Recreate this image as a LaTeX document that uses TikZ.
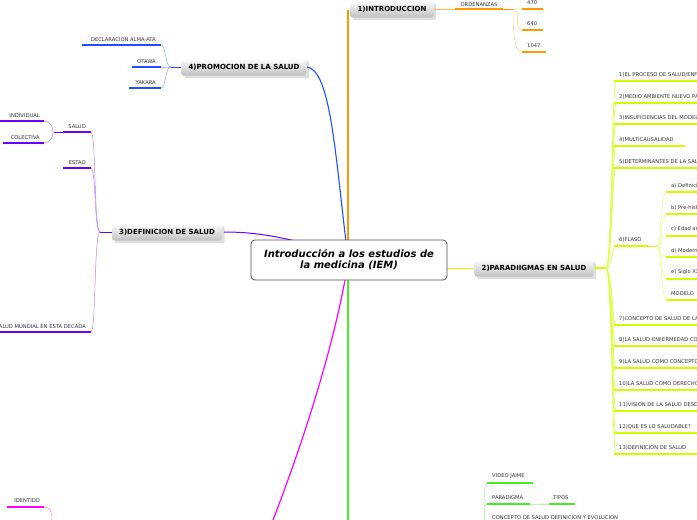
\documentclass[tikz,border=0pt]{standalone}
\usepackage{fontspec}
\setmainfont{DejaVu Sans}
\usetikzlibrary{shadows}
\definecolor{cor}{HTML}{FF9900}
\definecolor{clime}{HTML}{CCFF00}
\definecolor{cblue}{HTML}{1F4FFF}
\definecolor{cpur}{HTML}{6A00FF}
\definecolor{cgrn}{HTML}{44EE22}
\definecolor{cmag}{HTML}{FF00FF}
\tikzset{
 mainbox/.style={draw=black!70,rounded corners=4pt,fill=white,line width=0.8pt,minimum width=196pt,minimum height=40pt,align=center,font=\bfseries\itshape\fontsize{10}{11}\selectfont},
 topic/.style={rounded corners=2pt,top color=white,bottom color=black!25,drop shadow={opacity=0.25},minimum height=17pt,inner xsep=7pt,font=\bfseries\fontsize{7}{8}\selectfont},
 lbl/.style={font=\fontsize{5.2}{5.5}\selectfont,text=black!80,inner sep=0pt,anchor=south west},
 ul/.style={line width=2pt},
}
\begin{document}
\begin{tikzpicture}[x=1pt,y=-1pt]
\useasboundingbox (0,0) rectangle (697,520);
\clip (0,0) rectangle (697,520);
% connectors from center
\draw[cor,line width=1.3pt] (348,242) -- (348,10);
\draw[cgrn,line width=1.3pt] (348,278) -- (348,520);
\draw[cmag,line width=1.2pt] (345,280) .. controls (330,360) and (300,450) .. (273,520);
\draw[cblue,line width=1.1pt] (346,242) .. controls (335,150) and (330,70) .. (307,67);
\draw[cpur,line width=1pt] (300,242) .. controls (270,235) and (250,232) .. (224,232);
\draw[clime,line width=1pt] (447,268) -- (473,268);
% center
\node[mainbox] (c) at (349,260) {Introducción a los estudios de\\la medicina (IEM)};
% 1) INTRODUCCION
\node[topic] (t1) at (392,9) {1)INTRODUCCION};
\draw[cor!70,line width=0.5pt] (t1.east) -- (455,9);
\draw[cor,ul] (455,9) coordinate (o1) -- (503,9) coordinate (o2);
\node[lbl,anchor=south] (ord) at (479,7) {ORDENANZAS};
\draw[cor,line width=0.8pt] (o2) -- (513,9);
\draw[cor!50,line width=0.5pt] (513,9) -- (522,9) (513,9) to[out=0,in=180] (522,30) (513,9) .. controls (513,40) and (516,52) .. (522,52);
\draw[cor,ul] (522,9) -- (543,9); \node[lbl] at (527,5) {470};
\draw[cor,ul] (522,30) -- (543,30); \node[lbl] at (527,26) {640};
\draw[cor,ul] (522,52) -- (546,52); \node[lbl] at (527,48) {1047};
% 2) PARADIIGMAS
\node[topic] (t2) at (534,268) {2)PARADIIGMAS EN SALUD};
\draw[clime,line width=1.5pt] (t2.east) -- (606,268);
\foreach \y/\t/\e in {81/{1)EL PROCESO DE SALUD/ENFERMEDAD}/700,103/{2)MEDIO AMBIENTE NUEVO PARADIGMA}/700,124/{3)INSUFICIENCIAS DEL MODELO}/700,146/{4)MULTICAUSALIDAD}/685,168/{5)DETERMINANTES DE LA SALUD}/700,325/{7)CONCEPTO DE SALUD DE LA OMS}/700,346/{8)LA SALUD-ENFERMEDAD COMO PROCESO}/700,368/{9)LA SALUD COMO CONCEPTO}/700,390/{10)LA SALUD COMO DERECHO}/700,411/{11)VISION DE LA SALUD DESDE}/700,433/{12)QUE ES LO SALUDABLE?}/700,454/{13)DEFINICION DE SALUD}/700}{
 \draw[clime!70,line width=0.8pt] (606,268) .. controls (612,268) and (612,\y) .. (616,\y);
 \draw[clime,ul] (614,\y) -- (\e,\y);
 \node[lbl] at (619,\y-4) {\t};
}
\draw[clime!70,line width=0.8pt] (606,268) .. controls (612,268) and (612,246) .. (616,246);
\draw[clime,ul] (614,246) -- (648,246) coordinate (f);
\node[lbl] at (619,242) {6)FLASO};
\draw[clime,line width=0.8pt] (f) -- (657,246);
\foreach \y/\t in {192/{a) Definición},214/{b) Pre-historia},236/{c) Edad antigua},257/{d) Moderna},279/{e) Siglo XX},300/{MODELO}}{
 \draw[clime!50,line width=0.5pt] (657,246) .. controls (662,246) and (660,\y) .. (667,\y);
 \draw[clime,ul] (666,\y) -- (700,\y);
 \node[lbl] at (671,\y-4) {\t};
}
% 4) PROMOCION
\node[topic] (t4) at (244,67) {4)PROMOCION DE LA SALUD};
\draw[cblue,line width=0.8pt] (t4.west) -- (171,67);
\foreach \y/\x/\t in {45/82/{DECLARACION ALMA-ATA},67/132/{OTAWA},88/129/{YAKARA}}{
 \draw[cblue!50,line width=0.5pt] (171,67) .. controls (165,67) and (166,\y) .. (161,\y);
 \draw[cblue,ul] (\x,\y) -- (161,\y);
 \node[lbl,anchor=south east] at (156,\y-3) {\t};
}
% 3) DEFINICION
\node[topic] (t3) at (167,232) {3)DEFINICION DE SALUD};
\draw[cpur,line width=0.8pt] (t3.west) -- (100,232);
\foreach \y/\x/\t in {132/63/{SALUD},168/63/{ESTAO},332/-10/{SALUD MUNDIAL EN ESTA DECADA}}{
 \draw[cpur!50,line width=0.5pt] (100,232) .. controls (94,232) and (96,\y) .. (91,\y);
 \draw[cpur,ul] (\x,\y) -- (91,\y);
 \node[lbl,anchor=south east] at (86,\y-3) {\t};
}
\draw[cpur,line width=0.8pt] (63,132) -- (54,132);
\draw[cpur!50,line width=0.5pt] (44,121) .. controls (56,121) and (56,143) .. (44,143);
\draw[cpur,ul] (0,121) -- (44,121); \node[lbl,anchor=south east] at (40,118) {INDIVIDUAL};
\draw[cpur,ul] (3,143) -- (44,143); \node[lbl,anchor=south east] at (40,140) {COLECTIVA};
% green
\foreach \y/\x/\t in {483/533/{VIDEO JAIME},504/530/{PARADIGMA},524/700/{CONCEPTO DE SALUD DEFINICION Y EVOLUCION}}{
 \draw[cgrn!50,line width=0.5pt] (484,540) .. controls (484,\y) and (484,\y) .. (489,\y);
 \draw[cgrn,ul] (487,\y) -- (\x,\y);
 \node[lbl] at (492,\y-4) {\t};
}
\draw[cgrn!40,line width=0.8pt] (530,504) -- (549,504);
\draw[cgrn,ul] (549,504) -- (575,504); \node[lbl] at (553,500) {TIPOS};
% magenta
\draw[cmag,ul] (7,507) -- (44,507); \node[lbl,anchor=south east] at (40,503) {IDENTIDD};
\draw[cmag!50,line width=0.5pt] (44,507) .. controls (50,507) and (52,512) .. (52,520);
\end{tikzpicture}
\end{document}
